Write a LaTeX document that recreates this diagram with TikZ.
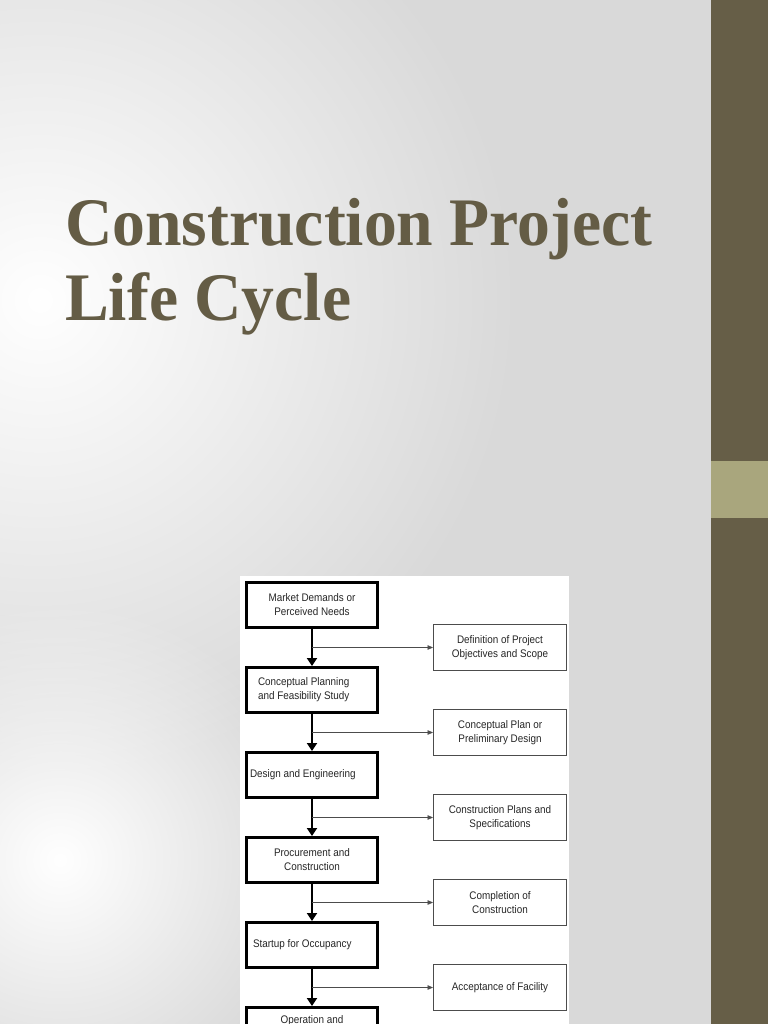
\documentclass[tikz,border=0pt]{standalone}
\usepackage{fontspec}
\setmainfont{Liberation Serif}
\newfontfamily\titlefont[FakeStretch=0.965]{Liberation Serif}
\newfontfamily\boxfont[FakeStretch=0.9]{Liberation Sans}
\usetikzlibrary{positioning,arrows.meta,fadings}

\definecolor{slidegray}{HTML}{D9D9D9}
\definecolor{barbrown}{HTML}{665E47}
\definecolor{barkhaki}{HTML}{A9A67D}
\definecolor{titlebrown}{HTML}{645C45}
\tikzfading[name=glow, inner color=transparent!0, outer color=transparent!100]

\begin{document}
\begin{tikzpicture}[x=1pt,y=-1pt,node distance=85pt,on grid,
    stage/.style={draw=black,line width=3pt,minimum width=131pt,minimum height=45pt,
                  inner sep=4pt,font=\boxfont\fontsize{11}{14}\selectfont,text=black!85},
    result/.style={draw=black!70,line width=0.9pt,minimum width=133pt,minimum height=46pt,
                   font=\boxfont\fontsize{11}{14}\selectfont,text=black!85,align=center},
    flow/.style={line width=2.8pt,-{Triangle[width=10pt,length=8pt]}},
    branch/.style={draw=black!70,line width=0.8pt,-{Triangle[width=4.5pt,length=5.5pt]}}]
    \useasboundingbox (0,0) rectangle (768,1024);
    \clip (0,0) rectangle (768,1024);
    % slide background
    \fill[slidegray] (0,0) rectangle (711,1024);
    \fill[white,path fading=glow] (40,300) circle (480pt);
    \fill[white,path fading=glow] (60,860) circle (260pt);
    \fill[barbrown] (711,0) rectangle (768,1024);
    \fill[barkhaki] (711,461) rectangle (768,518);
    % title
    \node[anchor=base west,text=titlebrown,font=\titlefont\bfseries\fontsize{68}{75}\selectfont,
          align=left,inner sep=0pt] (title) at (65,320) {Construction Project\\Life Cycle};
    % figure panel
    \fill[white] (240,576) rectangle (569,1030);
    % stages
    \node[stage,align=center]                          (market)   at (312,605)  {Market Demands or\\Perceived Needs};
    \node[stage,text width=108pt,align=flush left]     (planning) [below=of market]   {Conceptual Planning\\and Feasibility Study};
    \node[stage,inner xsep=3pt,text width=124pt,align=flush left] (design) [below=of planning] {Design and Engineering};
    \node[stage,align=center]                          (procure)  [below=of design]   {Procurement and\\Construction};
    \node[stage,text width=118pt,align=flush left]     (startup)  [below=of procure]  {Startup for Occupancy};
    \node[stage,align=center,text height=12pt,text depth=25pt] (operate) [below=of startup] {Operation and};
    % results
    \node[result] (scope)      [below right=42.5pt and 188pt of market]   {Definition of Project\\Objectives and Scope};
    \node[result] (prelim)     [below=of scope]   {Conceptual Plan or\\Preliminary Design};
    \node[result] (plans)      [below=of prelim]  {Construction Plans and\\Specifications};
    \node[result] (completion) [below=of plans]   {Completion of\\Construction};
    \node[result] (acceptance) [below=of completion] {Acceptance of Facility};
    % connectors
    \draw[flow] (market)   -- (planning);
    \draw[flow] (planning) -- (design);
    \draw[flow] (design)   -- (procure);
    \draw[flow] (procure)  -- (startup);
    \draw[flow] (startup)  -- (operate);
    \draw[branch] (scope.west -| market.south)      -- (scope.west);
    \draw[branch] (prelim.west -| planning.south)   -- (prelim.west);
    \draw[branch] (plans.west -| design.south)      -- (plans.west);
    \draw[branch] (completion.west -| procure.south) -- (completion.west);
    \draw[branch] (acceptance.west -| startup.south) -- (acceptance.west);
\end{tikzpicture}
\end{document}
